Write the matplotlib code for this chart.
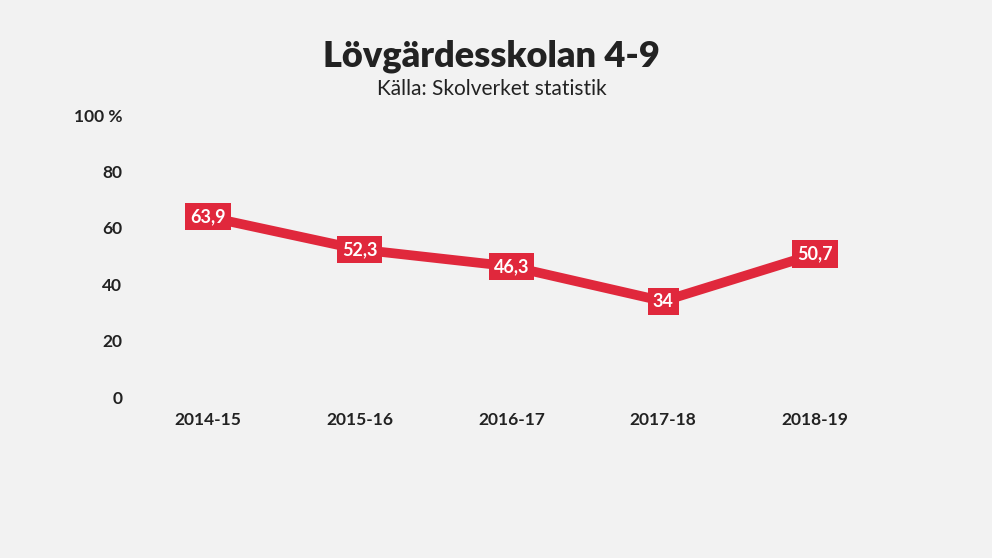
import matplotlib
matplotlib.use("Agg")
import matplotlib.pyplot as plt
import numpy as np

# data
years = ["2014-15", "2015-16", "2016-17", "2017-18", "2018-19"]
values = [63.9, 52.3, 46.3, 34, 50.7]
value_labels = ["63,9", "52,3", "46,3", "34", "50,7"]
y_ticks = [0, 20, 40, 60, 80, 100]
y_tick_labels = ["0", "20", "40", "60", "80", "100 %"]

bg = "#f2f2f2"
red = "#e0283c"
dark = "#222222"

plt.rcParams["font.family"] = ["Lato", "DejaVu Sans"]

fig = plt.figure(figsize=(9.92, 5.58), dpi=100, facecolor=bg)
ax = fig.add_axes([0.133, 0.2885, 0.765, 0.5054])
ax.set_facecolor(bg)

x = np.arange(len(years))
ax.plot(x, values, color=red, linewidth=7, solid_joinstyle="miter", zorder=2)

for xi, v, lab in zip(x, values, value_labels):
    ax.text(xi, v, lab, ha="center", va="center", color="white",
            fontsize=13, fontweight="bold", zorder=3,
            bbox=dict(boxstyle="square,pad=0.28", facecolor=red, edgecolor="none"))

ax.set_xlim(-0.5, 4.5)
ax.set_ylim(0, 100)
ax.set_xticks(x)
ax.set_xticklabels(years, fontsize=12.5, fontweight="bold", color=dark)
ax.set_yticks(y_ticks)
ax.set_yticklabels(y_tick_labels, fontsize=12.5, fontweight="bold", color=dark)
ax.tick_params(axis="both", length=0)
ax.tick_params(axis="x", pad=11)
ax.tick_params(axis="y", pad=7)
for s in ax.spines.values():
    s.set_visible(False)

fig.text(0.4955, 0.90, "Lövgärdesskolan 4-9", ha="center", va="center",
         fontsize=26, fontweight="heavy", color=dark)
fig.text(0.4955, 0.84, "Källa: Skolverket statistik", ha="center", va="center",
         fontsize=15, color=dark)

fig.savefig("out.png", dpi=100, facecolor=bg)
